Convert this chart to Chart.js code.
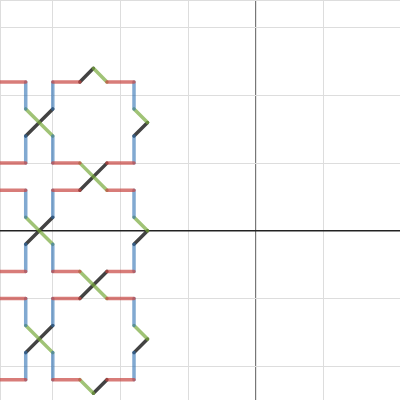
<!DOCTYPE html>
<html lang="en">
<head>
<meta charset="UTF-8">
<title>Pattern</title>
<script src="https://cdn.jsdelivr.net/npm/chart.js"></script>
<style>
  html, body { margin: 0; padding: 0; background: #fff; }
  #wrap { width: 400px; height: 400px; }
</style>
</head>
<body>
<div id="wrap"><canvas id="c"></canvas></div>
<script>
// segments as [x1, y1, x2, y2]
const redSegs = [
  [-3.8, 2.2, -3.4, 2.2], [-3.0, 2.2, -2.6, 2.2], [-2.2, 2.2, -1.8, 2.2],
  [-3.8, 1.0, -3.4, 1.0], [-3.0, 1.0, -2.6, 1.0], [-2.2, 1.0, -1.8, 1.0],
  [-3.8, 0.6, -3.4, 0.6], [-3.0, 0.6, -2.6, 0.6], [-2.2, 0.6, -1.8, 0.6],
  [-3.8, -0.6, -3.4, -0.6], [-3.0, -0.6, -2.6, -0.6], [-2.2, -0.6, -1.8, -0.6],
  [-3.8, -1.0, -3.4, -1.0], [-3.0, -1.0, -2.6, -1.0], [-2.2, -1.0, -1.8, -1.0],
  [-3.8, -2.2, -3.4, -2.2], [-3.0, -2.2, -2.6, -2.2], [-2.2, -2.2, -1.8, -2.2]
];
const blueSegs = [
  [-3.4, 2.2, -3.4, 1.8], [-3.0, 2.2, -3.0, 1.8], [-1.8, 2.2, -1.8, 1.8],
  [-3.4, 1.4, -3.4, 1.0], [-3.0, 1.4, -3.0, 1.0], [-1.8, 1.4, -1.8, 1.0],
  [-3.4, 0.6, -3.4, 0.2], [-3.0, 0.6, -3.0, 0.2], [-1.8, 0.6, -1.8, 0.2],
  [-3.4, -0.2, -3.4, -0.6], [-3.0, -0.2, -3.0, -0.6], [-1.8, -0.2, -1.8, -0.6],
  [-3.4, -1.0, -3.4, -1.4], [-3.0, -1.0, -3.0, -1.4], [-1.8, -1.0, -1.8, -1.4],
  [-3.4, -1.8, -3.4, -2.2], [-3.0, -1.8, -3.0, -2.2], [-1.8, -1.8, -1.8, -2.2]
];
const greenSegs = [
  [-2.4, 2.4, -2.2, 2.2],
  [-3.4, 1.8, -3.0, 1.4], [-1.8, 1.8, -1.6, 1.6],
  [-2.6, 1.0, -2.2, 0.6],
  [-3.4, 0.2, -3.0, -0.2], [-1.8, 0.2, -1.6, 0.0],
  [-2.6, -0.6, -2.2, -1.0],
  [-3.4, -1.4, -3.0, -1.8], [-1.8, -1.4, -1.6, -1.6],
  [-2.6, -2.2, -2.4, -2.4]
];
const blackSegs = [
  [-2.6, 2.2, -2.4, 2.4],
  [-3.0, 1.8, -3.4, 1.4], [-1.6, 1.6, -1.8, 1.4],
  [-2.2, 1.0, -2.6, 0.6],
  [-3.0, 0.2, -3.4, -0.2], [-1.6, 0.0, -1.8, -0.2],
  [-2.2, -0.6, -2.6, -1.0],
  [-3.0, -1.4, -3.4, -1.8], [-1.6, -1.6, -1.8, -1.8],
  [-2.4, -2.4, -2.2, -2.2]
];

function toPoints(segs) {
  const pts = [];
  segs.forEach(s => {
    pts.push({ x: s[0], y: s[1] }, { x: s[2], y: s[3] }, { x: null, y: null });
  });
  return pts;
}

function series(segs, color) {
  return {
    data: toPoints(segs),
    showLine: true,
    spanGaps: false,
    borderColor: color,
    borderWidth: 3.5,
    borderCapStyle: 'round',
    pointRadius: 0,
    pointHoverRadius: 0
  };
}

new Chart(document.getElementById('c'), {
  type: 'scatter',
  data: {
    datasets: [
      series(redSegs, 'rgba(199, 68, 64, 0.7)'),
      series(blueSegs, 'rgba(45, 112, 179, 0.6)'),
      series(greenSegs, 'rgba(120, 170, 60, 0.7)'),
      series(blackSegs, 'rgba(20, 20, 20, 0.8)')
    ]
  },
  options: {
    responsive: true,
    maintainAspectRatio: false,
    animation: false,
    layout: { padding: 0 },
    plugins: { legend: { display: false }, tooltip: { enabled: false } },
    scales: {
      x: {
        type: 'linear', min: -3.78, max: 2.13,
        border: { display: false },
        ticks: { display: false, stepSize: 1 },
        grid: {
          drawTicks: false,
          color: c => c.tick.value === 0 ? '#777' : '#ddd',
          lineWidth: c => c.tick.value === 0 ? 1.2 : 1
        }
      },
      y: {
        type: 'linear', min: -2.5, max: 3.41,
        border: { display: false },
        ticks: { display: false, stepSize: 1 },
        grid: {
          drawTicks: false,
          color: c => c.tick.value === 0 ? '#222' : '#ddd',
          lineWidth: c => c.tick.value === 0 ? 1.5 : 1
        }
      }
    }
  }
});
</script>
</body>
</html>
